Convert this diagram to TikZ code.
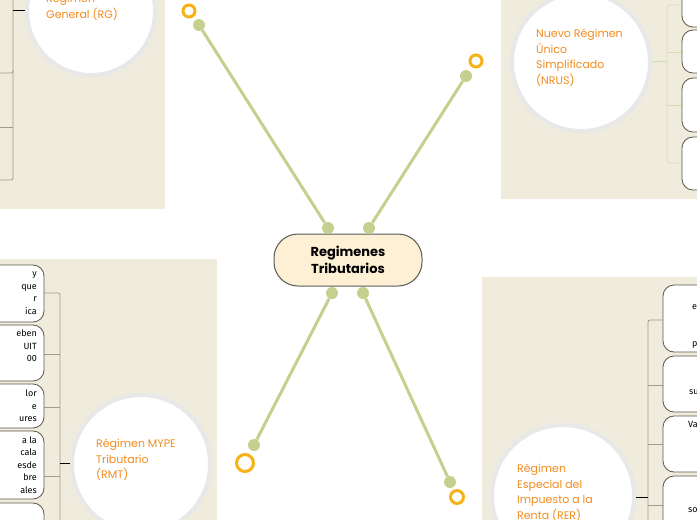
\documentclass[tikz,border=0pt]{standalone}
\usepackage{fontspec}
\setmainfont{Fira Sans}
\newfontfamily\headfont{Poppins}
\definecolor{panelc}{HTML}{EFECDE}
\definecolor{ringc}{HTML}{E8E8E8}
\definecolor{orangec}{HTML}{F28C1E}
\definecolor{boxc}{HTML}{5C5648}
\definecolor{greenc}{HTML}{C5D08E}
\definecolor{ringo}{HTML}{F7B217}
\definecolor{brkc}{HTML}{A09A88}
\definecolor{brkg}{HTML}{D5DDB0}
\definecolor{cream}{HTML}{FDF0D5}
\begin{document}
\begin{tikzpicture}[x=1pt,y=-1pt,
  panel/.style={fill=panelc,draw=none},
  topic/.style={circle,fill=white,draw=ringc,line width=4pt,minimum size=#1},
  ttext/.style={text=orangec,font=\headfont\fontsize{11}{15.5}\selectfont,align=left,anchor=north west,inner sep=0pt},
  leaf/.style={draw=boxc,fill=white,rounded corners=11pt,line width=0.8pt},
  btext/.style={font=\fontsize{9}{12.5}\selectfont,align=right,anchor=east,inner sep=0pt},
  etext/.style={font=\fontsize{9}{12}\selectfont,anchor=west,inner sep=0pt},
  brk/.style={draw=#1,line width=0.8pt,rounded corners=2pt},
  conn/.style={draw=greenc,line width=3pt},
  dot/.style={circle,fill=greenc,inner sep=0pt,minimum size=12pt},
  endring/.style={circle,draw=ringo,line width=3pt,inner sep=0pt,minimum size=#1},
]
\useasboundingbox (0,0) rectangle (697,520);
\fill[white] (0,0) rectangle (697,520);
% panels
\path[panel] (0,0) rectangle (165,209);
\path[panel] (501,0) rectangle (697,199);
\path[panel] (0,259) rectangle (217,520);
\path[panel] (482,277) rectangle (697,520);
% top-left
\draw[brk=brkc] (-5,73) -| (13,0);
\draw[brk=brkc] (-5,127) -- (13,127);
\draw[brk=brkc] (13,70) |- (-5,180);
\draw[black,line width=1pt] (13,10) -- (26,10);
\node[topic=128pt] (rg) at (91,11) {};
\node[ttext] (rgt) at (46,-6) {Régimen\\General (RG)};
% top-right
\draw[brk=brkg] (682,5) -| (667,163) -- (682,163);
\draw[brk=brkg] (667,52) -- (682,52);
\draw[brk=brkg] (667,105) -- (682,105);
\draw[brk=brkg] (652,61) -- (667,61);
\draw[leaf] (682,-20) rectangle (740,27);
\draw[leaf] (682,30) rectangle (740,73);
\draw[leaf] (682,78) rectangle (740,132);
\draw[leaf] (682,137) rectangle (740,190);
\node[topic=138pt] (nrus) at (581,62) {};
\node[ttext] (nrust) at (536,29) {Nuevo Régimen\\Único\\Simplificado\\(NRUS)};
% bottom-left
\draw[brk=brkc] (44,293) -| (60,530);
\draw[brk=brkc] (44,354) -- (60,354);
\draw[brk=brkc] (44,407) -- (60,407);
\draw[brk=brkc] (44,476) -- (60,476);
\draw[black,line width=1pt] (60,463) -- (72,463);
\draw[leaf] (-30,265) rectangle (44,322);
\draw[leaf] (-30,325) rectangle (44,381);
\draw[leaf] (-30,384) rectangle (44,428);
\draw[leaf] (-30,431) rectangle (44,499);
\draw[leaf] (-30,503) rectangle (44,560);
\node[btext] (b1) at (37,293) {y\\que\\r\\ica};
\node[btext] (b2) at (37,346) {eben\\UIT\\00};
\node[btext] (b3) at (37,406) {lor\\e\\ures};
\node[btext] (b4) at (37,465) {a la\\cala\\esde\\bre\\ales};
\node[topic=138pt] (rmt) at (141,464) {};
\node[ttext] (rmtt) at (96,439) {Régimen MYPE\\Tributario\\(RMT)};
% bottom-right
\draw[brk=brkc] (663,320) -| (648,530);
\draw[brk=brkc] (648,385) -- (663,385);
\draw[brk=brkc] (648,444) -- (663,444);
\draw[brk=brkc] (648,505) -- (663,505);
\draw[black,line width=1pt] (636,497) -- (648,497);
\draw[leaf] (663,285) rectangle (740,352);
\draw[leaf] (663,356) rectangle (740,412);
\draw[leaf] (663,416) rectangle (740,472);
\draw[leaf] (663,476) rectangle (740,540);
\node[etext] (e1) at (692,307) {e};
\node[etext] (e2) at (692,345) {p};
\node[etext] (e3) at (689,392) {su};
\node[etext] (e4) at (688,424) {Va};
\node[etext] (e5) at (688,510) {so};
\node[topic=142pt] (rer) at (563,496) {};
\node[ttext] (rert) at (517,464) {Régimen\\Especial del\\Impuesto a la\\Renta (RER)};
% central
\node[draw=gray!70!black,fill=cream,rounded corners=24pt,minimum width=148pt,minimum height=52pt,line width=1pt,
  font=\headfont\bfseries\fontsize{13}{17}\selectfont,align=center] (c) at (348,260) {Regimenes\\Tributarios};
% connectors
\node[dot] (d1) at (328,228) {};
\node[dot] (d1e) at (199,25) {};
\node[dot] (d2) at (369,228) {};
\node[dot] (d2e) at (466,76) {};
\node[dot] (d3) at (332,293) {};
\node[dot] (d3e) at (254,445) {};
\node[dot] (d4) at (363,293) {};
\node[dot] (d4e) at (450,482) {};
\draw[conn] (d1) -- (d1e);
\draw[conn] (d2) -- (d2e);
\draw[conn] (d3) -- (d3e);
\draw[conn] (d4) -- (d4e);
\node[endring=12pt] (r1) at (189,11) {};
\node[endring=12pt] (r2) at (476,61) {};
\node[endring=17pt] (r3) at (245,463) {};
\node[endring=13pt] (r4) at (457,497) {};
\end{tikzpicture}
\end{document}
